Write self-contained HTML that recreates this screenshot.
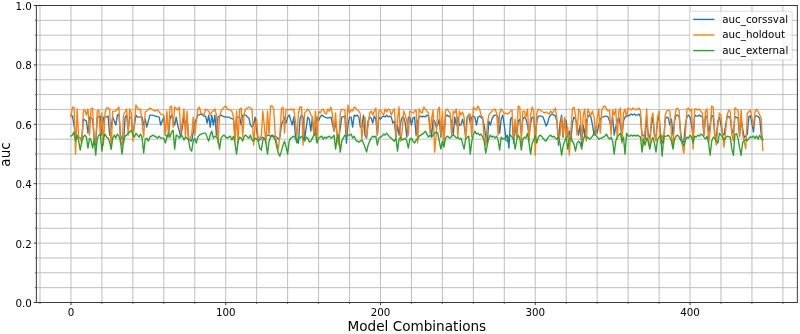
<!DOCTYPE html>
<html><head><meta charset="utf-8"><title>auc plot</title>
<style>html,body{margin:0;padding:0;background:#fff;width:800px;height:334px;overflow:hidden}svg{display:block}text{font-family:'DejaVu Sans', 'Liberation Sans', sans-serif;fill:#000}</style>
</head><body>
<svg width="800" height="334" viewBox="0 0 800 334">
<rect x="0" y="0" width="800" height="334" fill="#fff"/>
<path d="M40.00 5.50V302.50M70.95 5.50V302.50M101.90 5.50V302.50M132.86 5.50V302.50M163.81 5.50V302.50M194.77 5.50V302.50M225.72 5.50V302.50M256.67 5.50V302.50M287.63 5.50V302.50M318.58 5.50V302.50M349.54 5.50V302.50M380.49 5.50V302.50M411.44 5.50V302.50M442.40 5.50V302.50M473.35 5.50V302.50M504.31 5.50V302.50M535.26 5.50V302.50M566.21 5.50V302.50M597.17 5.50V302.50M628.12 5.50V302.50M659.08 5.50V302.50M690.03 5.50V302.50M720.98 5.50V302.50M751.94 5.50V302.50M782.89 5.50V302.50M36.36 287.65H797.36M36.36 272.80H797.36M36.36 257.95H797.36M36.36 243.10H797.36M36.36 228.25H797.36M36.36 213.40H797.36M36.36 198.55H797.36M36.36 183.70H797.36M36.36 168.85H797.36M36.36 154.00H797.36M36.36 139.15H797.36M36.36 124.30H797.36M36.36 109.45H797.36M36.36 94.60H797.36M36.36 79.75H797.36M36.36 64.90H797.36M36.36 50.05H797.36M36.36 35.20H797.36M36.36 20.35H797.36" stroke="#b8b8b8" stroke-width="0.9" fill="none"/>
<path d="M70.95 115.06 L72.50 116.07 L74.05 125.58 L75.59 135.11 L77.14 136.12 L78.69 137.13 L80.24 138.11 L81.78 139.12 L83.33 119.07 L84.88 120.08 L86.43 121.06 L87.97 133.12 L89.52 117.05 L91.07 118.06 L92.62 119.07 L94.17 137.13 L95.71 145.15 L97.26 117.05 L98.81 116.55 L100.36 116.07 L101.90 135.11 L103.45 117.05 L105.00 117.05 L106.55 117.05 L108.09 116.07 L109.64 135.11 L111.19 126.08 L112.74 117.05 L114.29 121.06 L115.83 125.07 L117.38 115.06 L118.93 114.05 L120.48 135.11 L122.02 139.12 L123.57 143.13 L125.12 117.05 L126.67 115.06 L128.21 129.08 L129.76 117.05 L131.31 117.05 L132.86 135.11 L134.41 125.07 L135.95 115.06 L137.50 117.05 L139.05 117.05 L140.60 117.05 L142.14 117.05 L143.69 125.07 L145.24 119.07 L146.79 127.09 L148.34 121.06 L149.88 115.06 L151.43 115.06 L152.98 115.45 L154.53 115.87 L156.07 116.25 L157.62 116.67 L159.17 117.05 L160.72 125.07 L162.26 121.06 L163.81 117.05 L165.36 135.11 L166.91 136.12 L168.46 137.13 L170.00 119.07 L171.55 115.06 L173.10 120.08 L174.65 125.07 L176.19 117.05 L177.74 125.07 L179.29 131.10 L180.84 137.13 L182.38 127.09 L183.93 117.05 L185.48 125.07 L187.03 117.05 L188.58 139.12 L190.12 140.13 L191.67 141.14 L193.22 132.11 L194.77 123.08 L196.31 119.07 L197.86 115.06 L199.41 114.56 L200.96 114.05 L202.50 115.06 L204.05 116.07 L205.60 116.07 L207.15 123.08 L208.70 115.06 L210.24 127.09 L211.79 115.06 L213.34 125.07 L214.89 115.06 L216.43 135.11 L217.98 117.05 L219.53 116.07 L221.08 115.06 L222.62 116.07 L224.17 116.55 L225.72 117.05 L227.27 117.05 L228.82 117.05 L230.36 118.06 L231.91 118.57 L233.46 119.07 L235.01 137.13 L236.55 117.05 L238.10 117.05 L239.65 117.05 L241.20 125.07 L242.74 115.06 L244.29 115.06 L245.84 115.06 L247.39 117.05 L248.94 118.06 L250.48 125.07 L252.03 127.09 L253.58 125.07 L255.13 117.05 L256.67 131.10 L258.22 139.12 L259.77 140.13 L261.32 138.62 L262.86 137.13 L264.41 139.12 L265.96 137.13 L267.51 135.11 L269.06 135.62 L270.60 136.12 L272.15 135.11 L273.70 136.12 L275.25 136.63 L276.79 137.13 L278.34 139.12 L279.89 137.13 L281.44 125.07 L282.98 121.06 L284.53 117.05 L286.08 123.08 L287.63 117.05 L289.18 115.06 L290.72 120.08 L292.27 125.07 L293.82 117.05 L295.37 135.11 L296.91 141.14 L298.46 143.13 L300.01 119.07 L301.56 115.06 L303.11 117.05 L304.65 139.12 L306.20 128.10 L307.75 117.05 L309.30 119.07 L310.84 131.10 L312.39 117.05 L313.94 135.11 L315.49 131.10 L317.03 117.05 L318.58 121.06 L320.13 117.05 L321.68 115.06 L323.23 116.07 L324.77 117.05 L326.32 117.56 L327.87 118.06 L329.42 117.56 L330.96 117.05 L332.51 124.09 L334.06 131.10 L335.61 121.06 L337.15 135.11 L338.70 139.12 L340.25 128.10 L341.80 117.05 L343.35 116.55 L344.89 116.07 L346.44 143.13 L347.99 125.07 L349.54 117.05 L351.08 117.05 L352.63 127.09 L354.18 115.06 L355.73 116.07 L357.27 115.06 L358.82 117.05 L360.37 127.09 L361.92 127.09 L363.47 115.06 L365.01 135.11 L366.56 138.11 L368.11 121.06 L369.66 117.05 L371.20 118.06 L372.75 123.08 L374.30 116.07 L375.85 119.07 L377.39 135.11 L378.94 117.05 L380.49 119.07 L382.04 117.05 L383.59 116.07 L385.13 117.05 L386.68 115.06 L388.23 117.05 L389.78 116.07 L391.32 117.05 L392.87 123.08 L394.42 121.06 L395.97 137.13 L397.51 125.07 L399.06 135.11 L400.61 123.08 L402.16 117.05 L403.71 117.05 L405.25 123.08 L406.80 137.13 L408.35 117.05 L409.90 117.05 L411.44 125.07 L412.99 118.06 L414.54 117.05 L416.09 135.11 L417.63 121.06 L419.18 117.05 L420.73 116.07 L422.28 117.05 L423.83 116.07 L425.37 117.05 L426.92 115.06 L428.47 116.07 L430.02 125.07 L431.56 137.13 L433.11 119.07 L434.66 121.06 L436.21 127.09 L437.75 125.07 L439.30 119.07 L440.85 137.13 L442.40 123.08 L443.95 135.11 L445.49 117.05 L447.04 115.06 L448.59 116.07 L450.14 117.05 L451.68 123.08 L453.23 135.11 L454.78 117.05 L456.33 125.07 L457.88 117.05 L459.42 125.07 L460.97 125.07 L462.52 119.07 L464.07 125.07 L465.61 135.11 L467.16 117.05 L468.71 115.06 L470.26 123.08 L471.80 117.05 L473.35 116.07 L474.90 117.05 L476.45 125.07 L478.00 117.05 L479.54 116.07 L481.09 117.05 L482.64 119.07 L484.19 125.07 L485.73 137.13 L487.28 143.13 L488.83 121.06 L490.38 125.07 L491.92 119.07 L493.47 116.07 L495.02 115.06 L496.57 115.06 L498.12 117.05 L499.66 133.12 L501.21 119.07 L502.76 115.06 L504.31 125.07 L505.85 138.11 L507.40 135.11 L508.95 148.15 L510.50 119.07 L512.04 117.05 L513.59 143.13 L515.14 125.07 L516.69 137.13 L518.24 121.06 L519.78 119.07 L521.33 133.12 L522.88 119.07 L524.43 117.05 L525.97 119.07 L527.52 125.07 L529.07 135.11 L530.62 123.08 L532.16 117.05 L533.71 117.05 L535.26 135.11 L536.81 121.06 L538.36 116.07 L539.90 116.07 L541.45 116.07 L543.00 117.05 L544.55 121.06 L546.09 126.08 L547.64 123.08 L549.19 117.05 L550.74 115.06 L552.28 114.05 L553.83 115.06 L555.38 116.07 L556.93 121.06 L558.48 145.15 L560.02 123.08 L561.57 115.06 L563.12 137.13 L564.67 119.07 L566.21 121.06 L567.76 137.13 L569.31 131.10 L570.86 141.14 L572.40 123.08 L573.95 117.05 L575.50 119.07 L577.05 125.07 L578.60 135.11 L580.14 125.07 L581.69 145.15 L583.24 125.07 L584.79 135.11 L586.33 121.06 L587.88 117.05 L589.43 115.06 L590.98 117.05 L592.52 125.07 L594.07 135.11 L595.62 127.09 L597.17 133.12 L598.72 125.07 L600.26 119.07 L601.81 117.05 L603.36 117.05 L604.91 116.07 L606.45 116.07 L608.00 117.05 L609.55 121.06 L611.10 127.09 L612.65 117.05 L614.19 135.11 L615.74 127.09 L617.29 121.06 L618.84 117.05 L620.38 125.07 L621.93 135.11 L623.48 121.06 L625.03 117.05 L626.57 115.06 L628.12 116.07 L629.67 115.06 L631.22 114.05 L632.77 115.06 L634.31 114.05 L635.86 115.06 L637.41 115.06 L638.96 114.05 L640.50 117.05 L642.05 135.11 L643.60 135.11 L645.15 139.12 L646.69 117.05 L648.24 135.11 L649.79 138.11 L651.34 125.07 L652.89 117.05 L654.43 135.11 L655.98 137.13 L657.53 121.06 L659.08 117.05 L660.62 135.11 L662.17 143.13 L663.72 139.12 L665.27 119.07 L666.81 117.05 L668.36 118.06 L669.91 125.07 L671.46 119.07 L673.01 135.11 L674.55 121.06 L676.10 115.06 L677.65 115.06 L679.20 117.05 L680.74 133.12 L682.29 143.13 L683.84 141.14 L685.39 125.07 L686.93 117.05 L688.48 115.06 L690.03 117.05 L691.58 125.07 L693.13 137.13 L694.67 115.06 L696.22 116.07 L697.77 116.07 L699.32 115.06 L700.86 116.07 L702.41 117.05 L703.96 135.11 L705.51 117.05 L707.05 116.07 L708.60 133.12 L710.15 125.07 L711.70 115.06 L713.25 117.05 L714.79 135.11 L716.34 137.13 L717.89 121.06 L719.44 117.05 L720.98 125.07 L722.53 133.12 L724.08 135.11 L725.63 125.07 L727.17 116.07 L728.72 116.55 L730.27 118.18 L731.82 129.50 L733.37 134.37 L734.91 116.55 L736.46 117.38 L738.01 118.18 L739.56 135.97 L741.10 119.79 L742.65 128.70 L744.20 137.61 L745.75 135.97 L747.29 134.37 L748.84 116.55 L750.39 115.75 L751.94 123.85 L753.49 131.93 L755.03 116.55 L756.58 115.75 L758.13 116.55 L759.68 118.18 L761.22 134.37 L762.77 139.21" stroke="#1f77b4" stroke-width="1.35" fill="none" stroke-linejoin="round" stroke-linecap="square"/>
<path d="M70.95 117.05 L72.50 107.04 L74.05 107.43 L75.59 154.18 L77.14 109.03 L78.69 137.13 L80.24 138.11 L81.78 143.13 L83.33 111.05 L84.88 110.04 L86.43 115.06 L87.97 109.03 L89.52 135.11 L91.07 109.03 L92.62 108.02 L94.17 141.14 L95.71 143.13 L97.26 111.05 L98.81 110.04 L100.36 135.11 L101.90 113.04 L103.45 145.15 L105.00 113.04 L106.55 108.02 L108.09 108.02 L109.64 109.03 L111.19 149.16 L112.74 111.05 L114.29 111.05 L115.83 111.05 L117.38 109.03 L118.93 107.04 L120.48 143.13 L122.02 145.15 L123.57 115.06 L125.12 112.03 L126.67 109.03 L128.21 135.11 L129.76 109.03 L131.31 113.04 L132.86 141.14 L134.41 123.08 L135.95 105.02 L137.50 108.02 L139.05 110.04 L140.60 109.03 L142.14 123.08 L143.69 137.13 L145.24 112.03 L146.79 111.05 L148.34 109.54 L149.88 108.02 L151.43 109.03 L152.98 110.04 L154.53 111.05 L156.07 110.55 L157.62 110.04 L159.17 112.03 L160.72 114.05 L162.26 114.56 L163.81 115.06 L165.36 135.11 L166.91 111.05 L168.46 137.13 L170.00 107.04 L171.55 106.03 L173.10 127.09 L174.65 107.04 L176.19 108.53 L177.74 110.04 L179.29 107.04 L180.84 133.12 L182.38 121.06 L183.93 109.03 L185.48 137.13 L187.03 111.05 L188.58 141.14 L190.12 138.11 L191.67 135.11 L193.22 117.05 L194.77 135.11 L196.31 122.07 L197.86 109.03 L199.41 107.04 L200.96 113.04 L202.50 114.05 L204.05 115.06 L205.60 109.03 L207.15 110.04 L208.70 111.05 L210.24 115.06 L211.79 112.03 L213.34 111.05 L214.89 109.03 L216.43 115.06 L217.98 143.13 L219.53 117.05 L221.08 111.05 L222.62 109.03 L224.17 107.04 L225.72 106.03 L227.27 109.03 L228.82 109.54 L230.36 110.04 L231.91 111.05 L233.46 117.05 L235.01 141.14 L236.55 111.05 L238.10 143.13 L239.65 109.03 L241.20 108.02 L242.74 137.13 L244.29 113.04 L245.84 109.03 L247.39 108.02 L248.94 107.04 L250.48 108.02 L252.03 109.03 L253.58 145.15 L255.13 125.07 L256.67 119.07 L258.22 141.14 L259.77 137.13 L261.32 137.13 L262.86 111.05 L264.41 127.09 L265.96 143.13 L267.51 111.05 L269.06 135.11 L270.60 106.03 L272.15 106.03 L273.70 109.03 L275.25 135.11 L276.79 143.13 L278.34 149.16 L279.89 135.11 L281.44 109.03 L282.98 107.04 L284.53 133.12 L286.08 109.03 L287.63 110.04 L289.18 109.54 L290.72 109.03 L292.27 110.04 L293.82 109.03 L295.37 121.06 L296.91 137.13 L298.46 113.04 L300.01 107.04 L301.56 107.04 L303.11 145.15 L304.65 113.04 L306.20 111.05 L307.75 109.03 L309.30 111.05 L310.84 115.06 L312.39 117.05 L313.94 135.11 L315.49 111.05 L317.03 139.12 L318.58 111.05 L320.13 113.04 L321.68 110.04 L323.23 109.03 L324.77 113.04 L326.32 114.05 L327.87 109.03 L329.42 111.05 L330.96 107.04 L332.51 115.06 L334.06 131.10 L335.61 113.04 L337.15 139.12 L338.70 145.15 L340.25 113.04 L341.80 109.03 L343.35 109.54 L344.89 110.04 L346.44 135.11 L347.99 105.02 L349.54 113.04 L351.08 110.04 L352.63 111.05 L354.18 107.04 L355.73 108.02 L357.27 110.04 L358.82 111.05 L360.37 114.05 L361.92 139.12 L363.47 123.08 L365.01 117.05 L366.56 137.13 L368.11 125.07 L369.66 113.04 L371.20 111.05 L372.75 115.06 L374.30 111.05 L375.85 108.02 L377.39 135.11 L378.94 111.05 L380.49 110.04 L382.04 113.04 L383.59 115.06 L385.13 109.03 L386.68 112.03 L388.23 109.03 L389.78 110.04 L391.32 115.06 L392.87 111.05 L394.42 109.03 L395.97 137.13 L397.51 119.07 L399.06 107.04 L400.61 141.14 L402.16 131.10 L403.71 111.05 L405.25 115.06 L406.80 121.06 L408.35 135.11 L409.90 111.05 L411.44 112.03 L412.99 113.04 L414.54 111.05 L416.09 110.04 L417.63 143.13 L419.18 109.03 L420.73 112.03 L422.28 113.04 L423.83 107.04 L425.37 109.03 L426.92 111.05 L428.47 113.04 L430.02 133.12 L431.56 119.07 L433.11 110.04 L434.66 152.16 L436.21 135.11 L437.75 111.05 L439.30 107.04 L440.85 135.11 L442.40 111.05 L443.95 145.15 L445.49 111.05 L447.04 109.03 L448.59 111.05 L450.14 113.04 L451.68 135.11 L453.23 111.05 L454.78 113.04 L456.33 109.03 L457.88 137.13 L459.42 111.05 L460.97 115.06 L462.52 112.03 L464.07 117.05 L465.61 139.12 L467.16 121.06 L468.71 114.05 L470.26 114.05 L471.80 137.13 L473.35 107.04 L474.90 109.03 L476.45 110.04 L478.00 106.03 L479.54 109.03 L481.09 115.06 L482.64 117.05 L484.19 139.12 L485.73 145.15 L487.28 125.07 L488.83 115.06 L490.38 113.04 L491.92 111.05 L493.47 110.04 L495.02 109.03 L496.57 113.04 L498.12 135.11 L499.66 113.04 L501.21 109.03 L502.76 111.05 L504.31 114.05 L505.85 113.04 L507.40 114.05 L508.95 113.04 L510.50 111.05 L512.04 110.04 L513.59 139.12 L515.14 119.07 L516.69 137.13 L518.24 106.03 L519.78 107.04 L521.33 143.13 L522.88 111.05 L524.43 111.05 L525.97 117.05 L527.52 109.03 L529.07 141.14 L530.62 115.06 L532.16 107.04 L533.71 111.05 L535.26 155.16 L536.81 113.04 L538.36 109.03 L539.90 110.04 L541.45 111.05 L543.00 112.03 L544.55 113.04 L546.09 112.03 L547.64 113.04 L549.19 114.05 L550.74 111.05 L552.28 113.04 L553.83 111.05 L555.38 108.02 L556.93 119.07 L558.48 141.14 L560.02 135.11 L561.57 117.05 L563.12 135.11 L564.67 117.05 L566.21 139.12 L567.76 127.09 L569.31 155.16 L570.86 131.10 L572.40 109.03 L573.95 107.04 L575.50 115.06 L577.05 135.11 L578.60 109.03 L580.14 111.05 L581.69 141.14 L583.24 115.06 L584.79 109.03 L586.33 141.14 L587.88 109.03 L589.43 113.04 L590.98 115.06 L592.52 111.05 L594.07 117.05 L595.62 135.11 L597.17 119.07 L598.72 109.03 L600.26 133.12 L601.81 110.04 L603.36 107.04 L604.91 106.03 L606.45 109.03 L608.00 111.05 L609.55 110.04 L611.10 135.11 L612.65 110.04 L614.19 115.06 L615.74 109.03 L617.29 139.12 L618.84 111.05 L620.38 108.02 L621.93 143.13 L623.48 113.04 L625.03 109.03 L626.57 117.05 L628.12 108.02 L629.67 109.03 L631.22 110.04 L632.77 108.02 L634.31 109.03 L635.86 110.04 L637.41 109.03 L638.96 108.02 L640.50 111.05 L642.05 139.12 L643.60 145.15 L645.15 129.08 L646.69 109.03 L648.24 143.13 L649.79 147.14 L651.34 119.07 L652.89 113.04 L654.43 135.11 L655.98 141.14 L657.53 117.05 L659.08 111.05 L660.62 143.13 L662.17 135.11 L663.72 143.13 L665.27 115.06 L666.81 111.05 L668.36 110.04 L669.91 111.05 L671.46 135.11 L673.01 147.14 L674.55 119.07 L676.10 109.03 L677.65 108.02 L679.20 111.05 L680.74 139.12 L682.29 145.15 L683.84 153.17 L685.39 135.11 L686.93 109.03 L688.48 108.02 L690.03 111.05 L691.58 109.03 L693.13 149.16 L694.67 109.03 L696.22 109.03 L697.77 110.04 L699.32 109.03 L700.86 111.05 L702.41 113.04 L703.96 135.11 L705.51 111.05 L707.05 109.03 L708.60 143.13 L710.15 131.10 L711.70 106.03 L713.25 107.04 L714.79 135.11 L716.34 145.15 L717.89 125.07 L719.44 113.04 L720.98 115.06 L722.53 135.11 L724.08 147.14 L725.63 131.10 L727.17 115.06 L728.72 110.10 L730.27 111.71 L731.82 134.37 L733.37 140.84 L734.91 107.67 L736.46 109.27 L738.01 110.10 L739.56 136.80 L741.10 110.10 L742.65 134.37 L744.20 141.64 L745.75 148.92 L747.29 113.34 L748.84 111.71 L750.39 110.10 L751.94 118.18 L753.49 126.26 L755.03 111.71 L756.58 109.27 L758.13 111.71 L759.68 114.94 L761.22 118.18 L762.77 150.55" stroke="#ff7f0e" stroke-width="1.35" fill="none" stroke-linejoin="round" stroke-linecap="square"/>
<path d="M70.95 136.12 L72.50 135.11 L74.05 132.11 L75.59 141.14 L77.14 135.11 L78.69 141.14 L80.24 150.17 L81.78 141.14 L83.33 137.13 L84.88 135.11 L86.43 137.13 L87.97 148.15 L89.52 138.11 L91.07 140.13 L92.62 148.15 L94.17 139.12 L95.71 155.16 L97.26 139.12 L98.81 135.11 L100.36 134.10 L101.90 151.15 L103.45 138.11 L105.00 134.10 L106.55 137.13 L108.09 138.11 L109.64 142.12 L111.19 149.16 L112.74 138.11 L114.29 135.11 L115.83 138.11 L117.38 134.10 L118.93 136.12 L120.48 141.14 L122.02 154.18 L123.57 141.14 L125.12 136.12 L126.67 135.11 L128.21 133.12 L129.76 132.11 L131.31 130.09 L132.86 134.10 L134.41 137.13 L135.95 133.12 L137.50 135.11 L139.05 137.13 L140.60 134.10 L142.14 138.11 L143.69 153.17 L145.24 139.12 L146.79 138.11 L148.34 141.14 L149.88 137.13 L151.43 136.12 L152.98 135.11 L154.53 136.12 L156.07 137.13 L157.62 138.11 L159.17 136.12 L160.72 138.11 L162.26 138.11 L163.81 138.11 L165.36 143.13 L166.91 137.13 L168.46 133.12 L170.00 137.13 L171.55 132.11 L173.10 130.09 L174.65 149.16 L176.19 135.11 L177.74 136.12 L179.29 138.11 L180.84 135.11 L182.38 136.12 L183.93 140.13 L185.48 137.13 L187.03 138.11 L188.58 140.13 L190.12 149.16 L191.67 151.15 L193.22 141.14 L194.77 138.11 L196.31 143.13 L197.86 137.13 L199.41 135.11 L200.96 134.10 L202.50 133.60 L204.05 133.12 L205.60 133.12 L207.15 137.13 L208.70 141.14 L210.24 135.11 L211.79 131.10 L213.34 138.11 L214.89 136.12 L216.43 137.13 L217.98 139.12 L219.53 149.16 L221.08 138.11 L222.62 136.12 L224.17 135.11 L225.72 137.13 L227.27 138.11 L228.82 137.13 L230.36 136.12 L231.91 140.13 L233.46 136.12 L235.01 143.13 L236.55 154.18 L238.10 141.14 L239.65 137.13 L241.20 138.11 L242.74 141.14 L244.29 136.12 L245.84 135.11 L247.39 137.13 L248.94 138.11 L250.48 135.11 L252.03 140.13 L253.58 141.14 L255.13 138.11 L256.67 139.12 L258.22 141.14 L259.77 148.15 L261.32 150.17 L262.86 140.13 L264.41 138.11 L265.96 143.13 L267.51 154.18 L269.06 141.14 L270.60 137.13 L272.15 136.12 L273.70 137.13 L275.25 140.13 L276.79 147.14 L278.34 153.17 L279.89 156.17 L281.44 151.15 L282.98 145.15 L284.53 141.14 L286.08 147.14 L287.63 154.18 L289.18 141.14 L290.72 138.11 L292.27 137.13 L293.82 136.12 L295.37 138.11 L296.91 143.13 L298.46 137.13 L300.01 138.11 L301.56 136.12 L303.11 138.11 L304.65 141.14 L306.20 137.13 L307.75 138.11 L309.30 142.12 L310.84 141.14 L312.39 138.11 L313.94 135.11 L315.49 133.12 L317.03 143.13 L318.58 138.11 L320.13 137.13 L321.68 136.12 L323.23 139.12 L324.77 137.13 L326.32 138.11 L327.87 137.13 L329.42 136.12 L330.96 138.11 L332.51 137.13 L334.06 135.11 L335.61 149.16 L337.15 137.13 L338.70 135.11 L340.25 152.16 L341.80 141.14 L343.35 138.11 L344.89 135.11 L346.44 136.12 L347.99 135.11 L349.54 135.11 L351.08 134.10 L352.63 138.11 L354.18 136.12 L355.73 140.13 L357.27 141.14 L358.82 142.12 L360.37 141.14 L361.92 140.13 L363.47 143.13 L365.01 147.14 L366.56 152.16 L368.11 145.15 L369.66 141.14 L371.20 138.11 L372.75 136.12 L374.30 137.13 L375.85 136.12 L377.39 145.15 L378.94 138.11 L380.49 137.13 L382.04 136.12 L383.59 134.10 L385.13 135.11 L386.68 133.12 L388.23 135.11 L389.78 137.13 L391.32 138.11 L392.87 140.13 L394.42 141.14 L395.97 138.11 L397.51 151.15 L399.06 139.12 L400.61 137.13 L402.16 140.13 L403.71 139.12 L405.25 138.11 L406.80 141.14 L408.35 148.15 L409.90 139.12 L411.44 138.11 L412.99 141.14 L414.54 143.13 L416.09 140.13 L417.63 139.12 L419.18 136.12 L420.73 135.11 L422.28 134.10 L423.83 133.12 L425.37 131.10 L426.92 134.10 L428.47 137.13 L430.02 135.11 L431.56 137.13 L433.11 135.11 L434.66 133.12 L436.21 132.11 L437.75 133.12 L439.30 141.14 L440.85 149.16 L442.40 141.14 L443.95 147.14 L445.49 138.11 L447.04 136.12 L448.59 137.13 L450.14 138.11 L451.68 136.12 L453.23 135.11 L454.78 136.12 L456.33 138.11 L457.88 137.13 L459.42 139.12 L460.97 138.11 L462.52 143.13 L464.07 149.16 L465.61 139.12 L467.16 137.13 L468.71 136.12 L470.26 154.18 L471.80 141.14 L473.35 135.11 L474.90 131.10 L476.45 134.10 L478.00 133.12 L479.54 135.11 L481.09 134.10 L482.64 137.13 L484.19 141.14 L485.73 153.17 L487.28 145.15 L488.83 138.11 L490.38 135.11 L491.92 137.13 L493.47 136.12 L495.02 138.11 L496.57 136.12 L498.12 140.13 L499.66 150.17 L501.21 137.13 L502.76 139.12 L504.31 138.11 L505.85 140.13 L507.40 141.14 L508.95 137.13 L510.50 135.11 L512.04 137.13 L513.59 139.12 L515.14 149.16 L516.69 140.13 L518.24 135.11 L519.78 138.11 L521.33 150.17 L522.88 139.12 L524.43 137.13 L525.97 138.11 L527.52 133.12 L529.07 143.13 L530.62 154.18 L532.16 143.13 L533.71 140.13 L535.26 135.11 L536.81 143.13 L538.36 137.13 L539.90 135.11 L541.45 136.12 L543.00 138.11 L544.55 140.13 L546.09 141.14 L547.64 138.11 L549.19 136.12 L550.74 135.11 L552.28 137.13 L553.83 136.12 L555.38 138.11 L556.93 139.12 L558.48 137.13 L560.02 143.13 L561.57 155.16 L563.12 146.13 L564.67 141.14 L566.21 137.13 L567.76 149.16 L569.31 139.12 L570.86 137.13 L572.40 141.14 L573.95 144.14 L575.50 151.15 L577.05 143.13 L578.60 141.14 L580.14 143.13 L581.69 149.16 L583.24 140.13 L584.79 135.11 L586.33 138.11 L587.88 137.13 L589.43 139.12 L590.98 138.11 L592.52 136.12 L594.07 133.12 L595.62 135.11 L597.17 137.13 L598.72 139.12 L600.26 138.11 L601.81 138.11 L603.36 137.13 L604.91 136.12 L606.45 134.10 L608.00 137.13 L609.55 139.12 L611.10 137.13 L612.65 141.14 L614.19 154.18 L615.74 141.14 L617.29 137.13 L618.84 135.11 L620.38 133.12 L621.93 141.14 L623.48 137.13 L625.03 154.18 L626.57 133.12 L628.12 136.12 L629.67 136.12 L631.22 135.11 L632.77 136.12 L634.31 135.11 L635.86 136.12 L637.41 135.11 L638.96 136.12 L640.50 137.13 L642.05 152.16 L643.60 139.12 L645.15 145.15 L646.69 138.11 L648.24 141.14 L649.79 149.16 L651.34 141.14 L652.89 137.13 L654.43 143.13 L655.98 152.16 L657.53 139.12 L659.08 137.13 L660.62 135.11 L662.17 156.17 L663.72 137.13 L665.27 136.12 L666.81 136.12 L668.36 135.11 L669.91 137.13 L671.46 141.14 L673.01 149.16 L674.55 139.12 L676.10 136.12 L677.65 135.11 L679.20 137.13 L680.74 140.13 L682.29 142.12 L683.84 146.13 L685.39 140.13 L686.93 137.13 L688.48 138.11 L690.03 135.11 L691.58 137.13 L693.13 143.13 L694.67 136.12 L696.22 137.13 L697.77 135.11 L699.32 136.12 L700.86 134.10 L702.41 135.11 L703.96 137.13 L705.51 139.12 L707.05 136.12 L708.60 143.13 L710.15 155.16 L711.70 141.14 L713.25 137.13 L714.79 138.11 L716.34 141.14 L717.89 143.13 L719.44 133.12 L720.98 135.11 L722.53 137.13 L724.08 140.13 L725.63 138.11 L727.17 136.12 L728.72 136.80 L730.27 136.80 L731.82 148.92 L733.37 155.40 L734.91 134.37 L736.46 133.57 L738.01 138.41 L739.56 147.32 L741.10 155.40 L742.65 142.45 L744.20 140.84 L745.75 139.21 L747.29 140.84 L748.84 138.41 L750.39 136.80 L751.94 137.61 L753.49 135.97 L755.03 138.41 L756.58 135.97 L758.13 139.21 L759.68 135.17 L761.22 138.41 L762.77 140.01" stroke="#2ca02c" stroke-width="1.35" fill="none" stroke-linejoin="round" stroke-linecap="square"/>
<rect x="36.36" y="5.50" width="761.00" height="297.00" fill="none" stroke="#3a3a3a" stroke-width="1.0" stroke-linejoin="miter" stroke-linecap="square"/>
<path d="M70.95 302.50v2.6M225.72 302.50v2.6M380.49 302.50v2.6M535.26 302.50v2.6M690.03 302.50v2.6M36.36 302.50h-2.6M36.36 243.10h-2.6M36.36 183.70h-2.6M36.36 124.30h-2.6M36.36 64.90h-2.6M36.36 5.50h-2.6" stroke="#3a3a3a" stroke-width="1" fill="none"/>
<path d="M40.00 302.50v1.5M101.90 302.50v1.5M132.86 302.50v1.5M163.81 302.50v1.5M194.77 302.50v1.5M256.67 302.50v1.5M287.63 302.50v1.5M318.58 302.50v1.5M349.54 302.50v1.5M411.44 302.50v1.5M442.40 302.50v1.5M473.35 302.50v1.5M504.31 302.50v1.5M566.21 302.50v1.5M597.17 302.50v1.5M628.12 302.50v1.5M659.08 302.50v1.5M720.98 302.50v1.5M751.94 302.50v1.5M782.89 302.50v1.5M36.36 287.65h-1.5M36.36 272.80h-1.5M36.36 257.95h-1.5M36.36 228.25h-1.5M36.36 213.40h-1.5M36.36 198.55h-1.5M36.36 168.85h-1.5M36.36 154.00h-1.5M36.36 139.15h-1.5M36.36 109.45h-1.5M36.36 94.60h-1.5M36.36 79.75h-1.5M36.36 50.05h-1.5M36.36 35.20h-1.5M36.36 20.35h-1.5" stroke="#3a3a3a" stroke-width="0.75" fill="none"/>
<text x="70.95" y="315.7" font-size="10.3" text-anchor="middle">0</text>
<text x="225.72" y="315.7" font-size="10.3" text-anchor="middle">100</text>
<text x="380.49" y="315.7" font-size="10.3" text-anchor="middle">200</text>
<text x="535.26" y="315.7" font-size="10.3" text-anchor="middle">300</text>
<text x="690.03" y="315.7" font-size="10.3" text-anchor="middle">400</text>
<text x="31.8" y="306.95" font-size="10.3" text-anchor="end">0.0</text>
<text x="31.8" y="247.55" font-size="10.3" text-anchor="end">0.2</text>
<text x="31.8" y="188.15" font-size="10.3" text-anchor="end">0.4</text>
<text x="31.8" y="128.75" font-size="10.3" text-anchor="end">0.6</text>
<text x="31.8" y="69.35" font-size="10.3" text-anchor="end">0.8</text>
<text x="31.8" y="9.95" font-size="10.3" text-anchor="end">1.0</text>
<text x="416.86" y="330.7" font-size="13.6" text-anchor="middle">Model Combinations</text>
<text transform="translate(9.95 154.50) rotate(-90)" x="0" y="0" font-size="13.6" text-anchor="middle">auc</text>
<rect x="689.5" y="11.2" width="102.70" height="48.80" rx="2" ry="2" fill="#fff" fill-opacity="0.8" stroke="#ccc" stroke-opacity="0.8" stroke-width="0.83"/>
<path d="M693.2 19.40H714.4" stroke="#1f77b4" stroke-width="1.35" fill="none"/>
<text x="722.25" y="22.70" font-size="10.3">auc_corssval</text>
<path d="M693.2 35.00H714.4" stroke="#ff7f0e" stroke-width="1.35" fill="none"/>
<text x="722.25" y="38.30" font-size="10.3">auc_holdout</text>
<path d="M693.2 50.60H714.4" stroke="#2ca02c" stroke-width="1.35" fill="none"/>
<text x="722.25" y="53.90" font-size="10.3">auc_external</text>
</svg>
</body></html>
